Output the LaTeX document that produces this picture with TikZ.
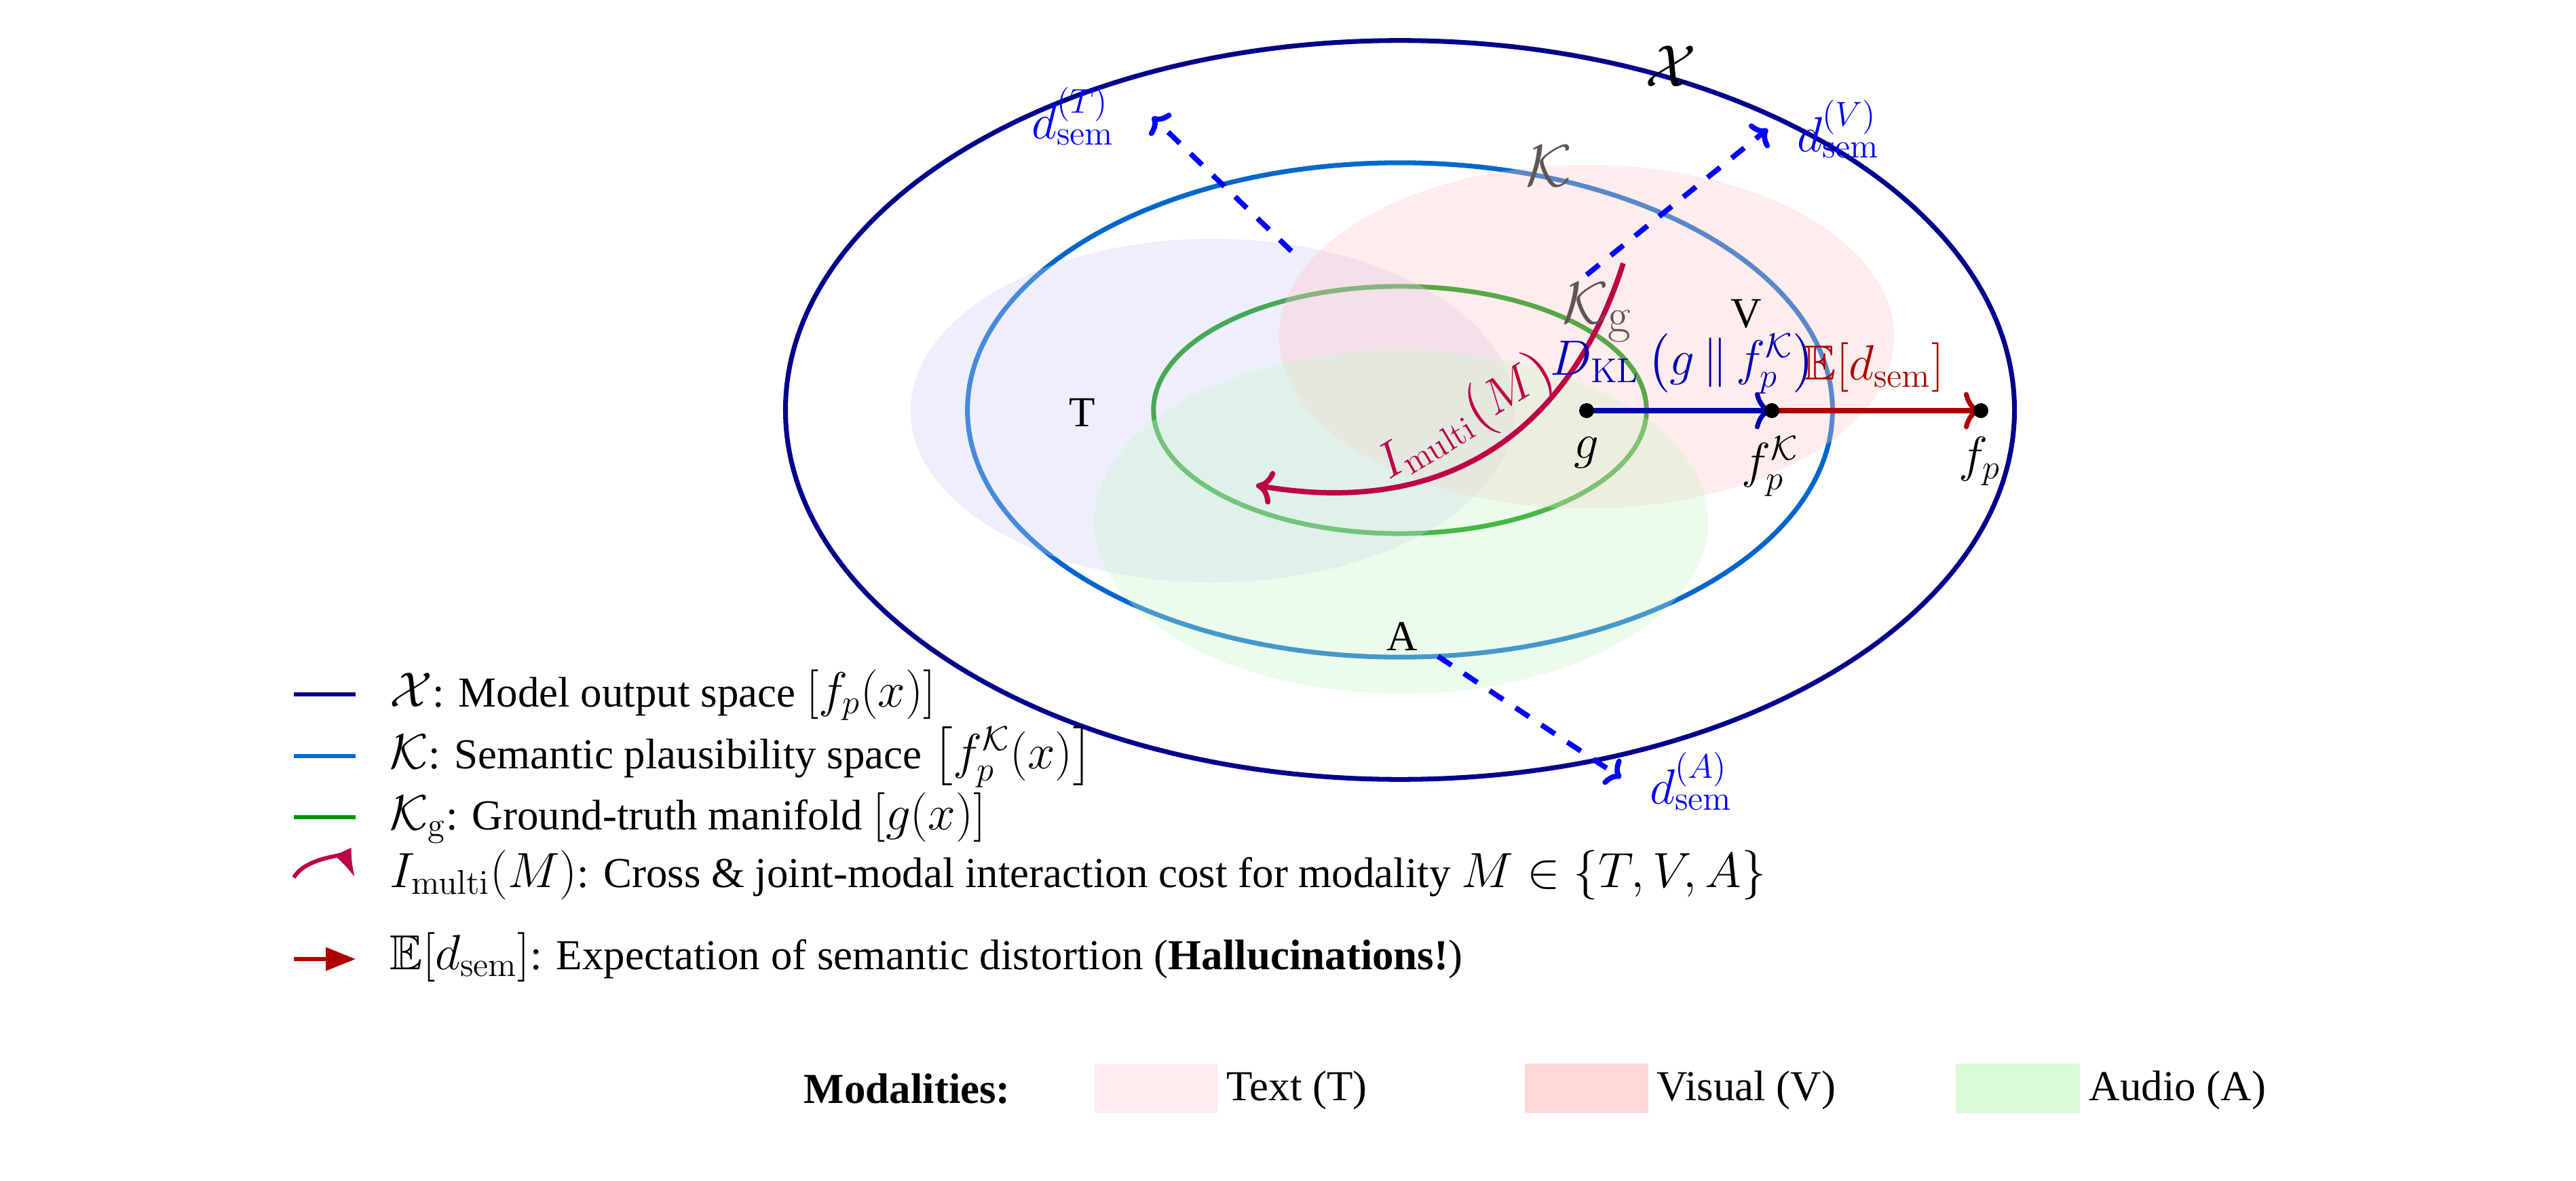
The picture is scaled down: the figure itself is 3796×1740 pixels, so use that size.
\documentclass[tikz,border=0pt]{standalone}
\usepackage[no-math]{fontspec}
\setmainfont{Liberation Serif}
\usepackage{amsmath,amssymb}
\DeclareMathSizes{17.9}{20.6}{14.4}{10.3}
\DeclareMathSizes{27}{29.5}{20.7}{14.8}
\usetikzlibrary{arrows.meta}
\definecolor{cnavy}{RGB}{0,0,140}
\definecolor{cblue}{RGB}{0,102,204}
\definecolor{cgreen}{RGB}{0,150,0}
\definecolor{ccrim}{RGB}{190,0,70}
\definecolor{cdred}{RGB}{175,0,0}
\definecolor{cdblue}{RGB}{0,0,175}
\definecolor{cdash}{RGB}{0,0,255}
\definecolor{cgray}{RGB}{95,85,85}
\definecolor{fT}{RGB}{206,206,246}
\definecolor{fV}{RGB}{255,201,201}
\definecolor{fA}{RGB}{201,246,201}
\definecolor{bT}{RGB}{255,236,238}
\definecolor{bV}{RGB}{255,217,218}
\definecolor{bA}{RGB}{217,251,217}
\begin{document}
\begin{tikzpicture}[x=0.01cm,y=-0.01cm,
  every node/.style={font=\fontsize{17.9}{21.5}\selectfont, inner sep=0pt},
  big/.style={font=\fontsize{27}{32}\selectfont},
  ring/.style={line width=2pt},
  region/.style={fill opacity=0.35},
  dsem/.style={cdash, line width=2.2pt, dash pattern=on 6.8pt off 6.2pt,
     -{Computer Modern Rightarrow[length=0.2cm,width=0.45cm]}},
  mainarrow/.style={line width=2pt, -{Computer Modern Rightarrow[length=0.25cm,width=0.55cm]}},
  dot/.style={circle, fill=black, minimum size=0.22cm, inner sep=0pt},
  legline/.style={line width=1.7pt},
  legtext/.style={anchor=base west}
]
\useasboundingbox (0,0) rectangle (3796,1740);

% outlines
\draw[ring, cnavy] (2063,604) ellipse [x radius=9.05cm, y radius=5.44cm];
\draw[ring, cblue] (2063,604) ellipse [x radius=6.37cm, y radius=3.64cm];
\draw[ring, cgreen] (2063,604) ellipse [x radius=3.63cm, y radius=1.82cm];

% modality regions
\fill[region, fT] (1787,605) ellipse [x radius=4.45cm, y radius=2.53cm];
\fill[region, fV] (2338,496) ellipse [x radius=4.53cm, y radius=2.53cm];
\fill[region, fA] (2065,769) ellipse [x radius=4.52cm, y radius=2.53cm];

% named points
\coordinate (tS) at (1903,370);
\coordinate (tE) at (1698,172);
\coordinate (vS) at (2338,405);
\coordinate (vE) at (2605,190);
\coordinate (aS) at (2119,967);
\coordinate (aE) at (2389,1146);
\coordinate (iS) at (2392,388);
\coordinate (iE) at (1851,715);
\coordinate (g) at (2338,605);
\coordinate (fpK) at (2611,605);
\coordinate (fp) at (2919,605);

% semantic distance directions
\draw[dsem] (tS) -- (tE);
\draw[dsem] (vS) -- (vE);
\draw[dsem] (aS) -- (aE);

% interaction cost curve
\draw[ccrim, line width=2.2pt, -{Computer Modern Rightarrow[length=0.25cm,width=0.5cm]}]
  (iS) .. controls (2318,620) and (2147,766) .. (iE);

% main arrows
\draw[mainarrow, cdblue] (g) -- (fpK);
\draw[mainarrow, cdred] (fpK) -- (fp);
\node[dot] (gdot) at (g) {};
\node[dot] (fpKdot) at (fpK) {};
\node[dot] (fpdot) at (fp) {};

% labels
\node[big] (lX) at (2462,98) {$\mathcal{X}$};
\node[big, text=cgray] (lK) at (2282,245) {$\mathcal{K}$};
\node[big, text=cgray] (lKg) at (2354,460) {$\mathcal{K}_{\mathrm{g}}$};
\node (lT) at (1595,608) {T};
\node (lV) at (2573,462) {V};
\node (lA) at (2066,938) {A};
\node (lg) at (2338,667) {$g$};
\node (lfpK) at (2609,687) {$f_p^{\mathcal{K}}$};
\node (lfp) at (2917,680) {$f_p$};
\node[text=cdblue, anchor=west] (lDKL) at (2284,536) {$D_{\mathrm{KL}}\left(g \,\|\, f_p^{\mathcal{K}}\right)$};
\node[text=cdred, anchor=west] (lE) at (2657,541) {$\mathbb{E}[d_{\mathrm{sem}}]$};
\node[text=ccrim, rotate=31] (lI) at (2162,617) {$I_{\mathrm{multi}}\bigl(M\bigr)$};
\node[text=cdash] (ldT) at (1581,171) {$d_{\mathrm{sem}}^{(T)}$};
\node[text=cdash] (ldV) at (2709,190) {$d_{\mathrm{sem}}^{(V)}$};
\node[text=cdash] (ldA) at (2492,1151) {$d_{\mathrm{sem}}^{(A)}$};

% legend
\coordinate (l1a) at (433,1023); \coordinate (l1b) at (524,1023);
\coordinate (l2a) at (433,1114); \coordinate (l2b) at (524,1114);
\coordinate (l3a) at (433,1204); \coordinate (l3b) at (524,1204);
\coordinate (l4a) at (433,1293); \coordinate (l4b) at (523,1293);
\coordinate (l5a) at (433,1413); \coordinate (l5b) at (524,1413);
\draw[legline, cnavy] (l1a) -- (l1b);
\draw[legline, cblue] (l2a) -- (l2b);
\draw[legline, cgreen] (l3a) -- (l3b);
\draw[legline, ccrim, -{Latex[length=12pt,width=8pt]}] (l4a) to[out=60,in=115] (l4b);
\draw[legline, cdred, -{Triangle[length=12.5pt,width=9.5pt]}] (l5a) -- (l5b);
\node[legtext] (t1) at (574,1041) {$\mathcal{X}$: Model output space $[f_p(x)]$};
\node[legtext] (t2) at (574,1132) {$\mathcal{K}$: Semantic plausibility space $\left[f_p^{\mathcal{K}}(x)\right]$};
\node[legtext] (t3) at (574,1222) {$\mathcal{K}_{\mathrm{g}}$: Ground-truth manifold $[g(x)]$};
\node[legtext] (t4) at (574,1307) {$I_{\mathrm{multi}}(M)$: Cross \& joint-modal interaction cost for modality $M\in\{T,V,A\}$};
\node[legtext] (t5) at (574,1428) {$\mathbb{E}[d_{\mathrm{sem}}]$: Expectation of semantic distortion (\textbf{Hallucinations!})};

% modalities legend
\node[legtext] (mod) at (1184,1625) {\textbf{Modalities:}};
\fill[bT] (1613,1567) rectangle (1795,1640);
\node[legtext] (mT) at (1807,1621) {Text (T)};
\fill[bV] (2247,1567) rectangle (2429,1640);
\node[legtext] (mV) at (2441,1621) {Visual (V)};
\fill[bA] (2882,1567) rectangle (3065,1640);
\node[legtext] (mA) at (3078,1621) {Audio (A)};
\end{tikzpicture}
\end{document}
